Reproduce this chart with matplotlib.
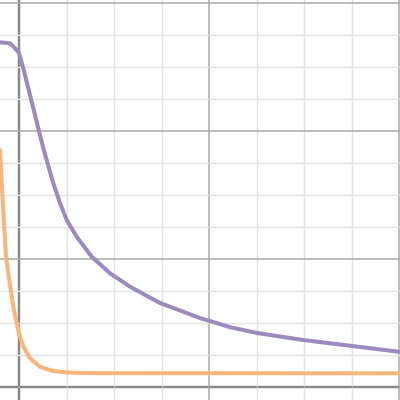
import matplotlib
matplotlib.use("Agg")
import matplotlib.pyplot as plt
import numpy as np

# Data (grid: minor step 0.5, major step 2)
purple_x = [-0.2, -0.095, -0.042, 0.0, 0.045, 0.098, 0.151, 0.203, 0.256, 0.361,
            0.432, 0.502, 0.607, 0.765, 0.958, 1.168, 1.361, 1.484, 1.905, 2.221,
            2.505, 2.989, 3.505, 4.02]
purple_y = [5.381, 5.366, 5.288, 5.214, 4.975, 4.663, 4.35, 4.038, 3.725, 3.178,
            2.866, 2.605, 2.344, 2.031, 1.772, 1.563, 1.406, 1.308, 1.073, 0.93,
            0.839, 0.73, 0.636, 0.542]
orange_x = [-0.2, -0.168, -0.137, -0.095, -0.06, -0.024, 0.0, 0.045, 0.116,
            0.221, 0.361, 0.502, 0.747, 4.02]
orange_y = [3.698, 2.808, 2.027, 1.589, 1.25, 0.991, 0.834, 0.625, 0.444,
            0.31, 0.245, 0.222, 0.212, 0.209]

fig = plt.figure(figsize=(4, 4), dpi=100)
ax = fig.add_axes([0, 0, 1, 1])

ax.set_xticks(np.arange(-2, 6.01, 2))
ax.set_xticks(np.arange(-0.5, 4.51, 0.5), minor=True)
ax.set_yticks(np.arange(-2, 8.01, 2))
ax.set_yticks(np.arange(-0.5, 6.51, 0.5), minor=True)
ax.grid(which="minor", color="#e2e2e2", linewidth=1.0, zorder=0)
ax.grid(which="major", color="#a8a8a8", linewidth=1.1, zorder=0)
ax.tick_params(which="both", length=0, labelbottom=False, labelleft=False)
for s in ax.spines.values():
    s.set_visible(False)
ax.axhline(0, color="#222222", lw=1.6, zorder=1)
ax.axvline(0, color="#222222", lw=1.6, zorder=1)

ax.plot(purple_x, purple_y, color="#9c89bd", lw=2.9, solid_capstyle="round",
        solid_joinstyle="round", zorder=3)
ax.plot(orange_x, orange_y, color="#f9b57b", lw=2.9, solid_capstyle="round",
        solid_joinstyle="round", zorder=3)

ax.set_xlim(-0.2, 4.0105)
ax.set_ylim(-0.208, 6.042)

fig.savefig("out.png", dpi=100)
